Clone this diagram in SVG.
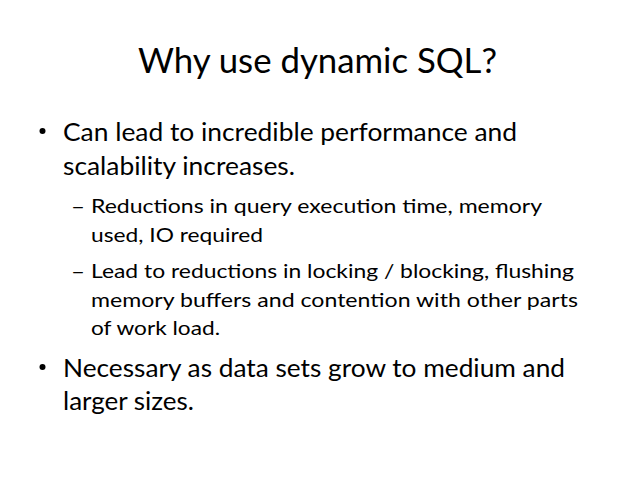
<svg xmlns="http://www.w3.org/2000/svg" width="638" height="479" viewBox="0 0 638 479">
<style>
text{font-family:Lato,"Open Sans","Liberation Sans",sans-serif;fill:#000}
.t{font-size:35.5px}
.b{font-size:25px}
.s{font-size:20px}
</style>
<rect width="638" height="479" fill="#fff"/>
<g id="title"><text class="t" x="138" y="72.5" textLength="359" lengthAdjust="spacingAndGlyphs">Why use dynamic SQL?</text></g>
<g id="bullet1">
<circle cx="42.5" cy="131" r="3"/>
<text class="b" x="63" y="141" textLength="454" lengthAdjust="spacingAndGlyphs">Can lead to incredible performance and</text>
<text class="b" x="63" y="175" textLength="232" lengthAdjust="spacingAndGlyphs">scalability increases.</text>
</g>
<g id="sub1">
<text class="s" x="71" y="212.5" textLength="14" lengthAdjust="spacingAndGlyphs">–</text>
<text class="s" x="91" y="212.5" textLength="451" lengthAdjust="spacingAndGlyphs">Reductions in query execution time, memory</text>
<text class="s" x="91" y="241.5" textLength="172" lengthAdjust="spacingAndGlyphs">used, IO required</text>
</g>
<g id="sub2">
<text class="s" x="71" y="277.5" textLength="14" lengthAdjust="spacingAndGlyphs">–</text>
<text class="s" x="91" y="277.5" textLength="483" lengthAdjust="spacingAndGlyphs">Lead to reductions in locking / blocking, flushing</text>
<text class="s" x="91" y="306.5" textLength="487" lengthAdjust="spacingAndGlyphs">memory buffers and contention with other parts</text>
<text class="s" x="91" y="335" textLength="129" lengthAdjust="spacingAndGlyphs">of work load.</text>
</g>
<g id="bullet2">
<circle cx="42.5" cy="367" r="3"/>
<text class="b" x="63" y="377" textLength="502" lengthAdjust="spacingAndGlyphs">Necessary as data sets grow to medium and</text>
<text class="b" x="63" y="410" textLength="131" lengthAdjust="spacingAndGlyphs">larger sizes.</text>
</g>
</svg>
